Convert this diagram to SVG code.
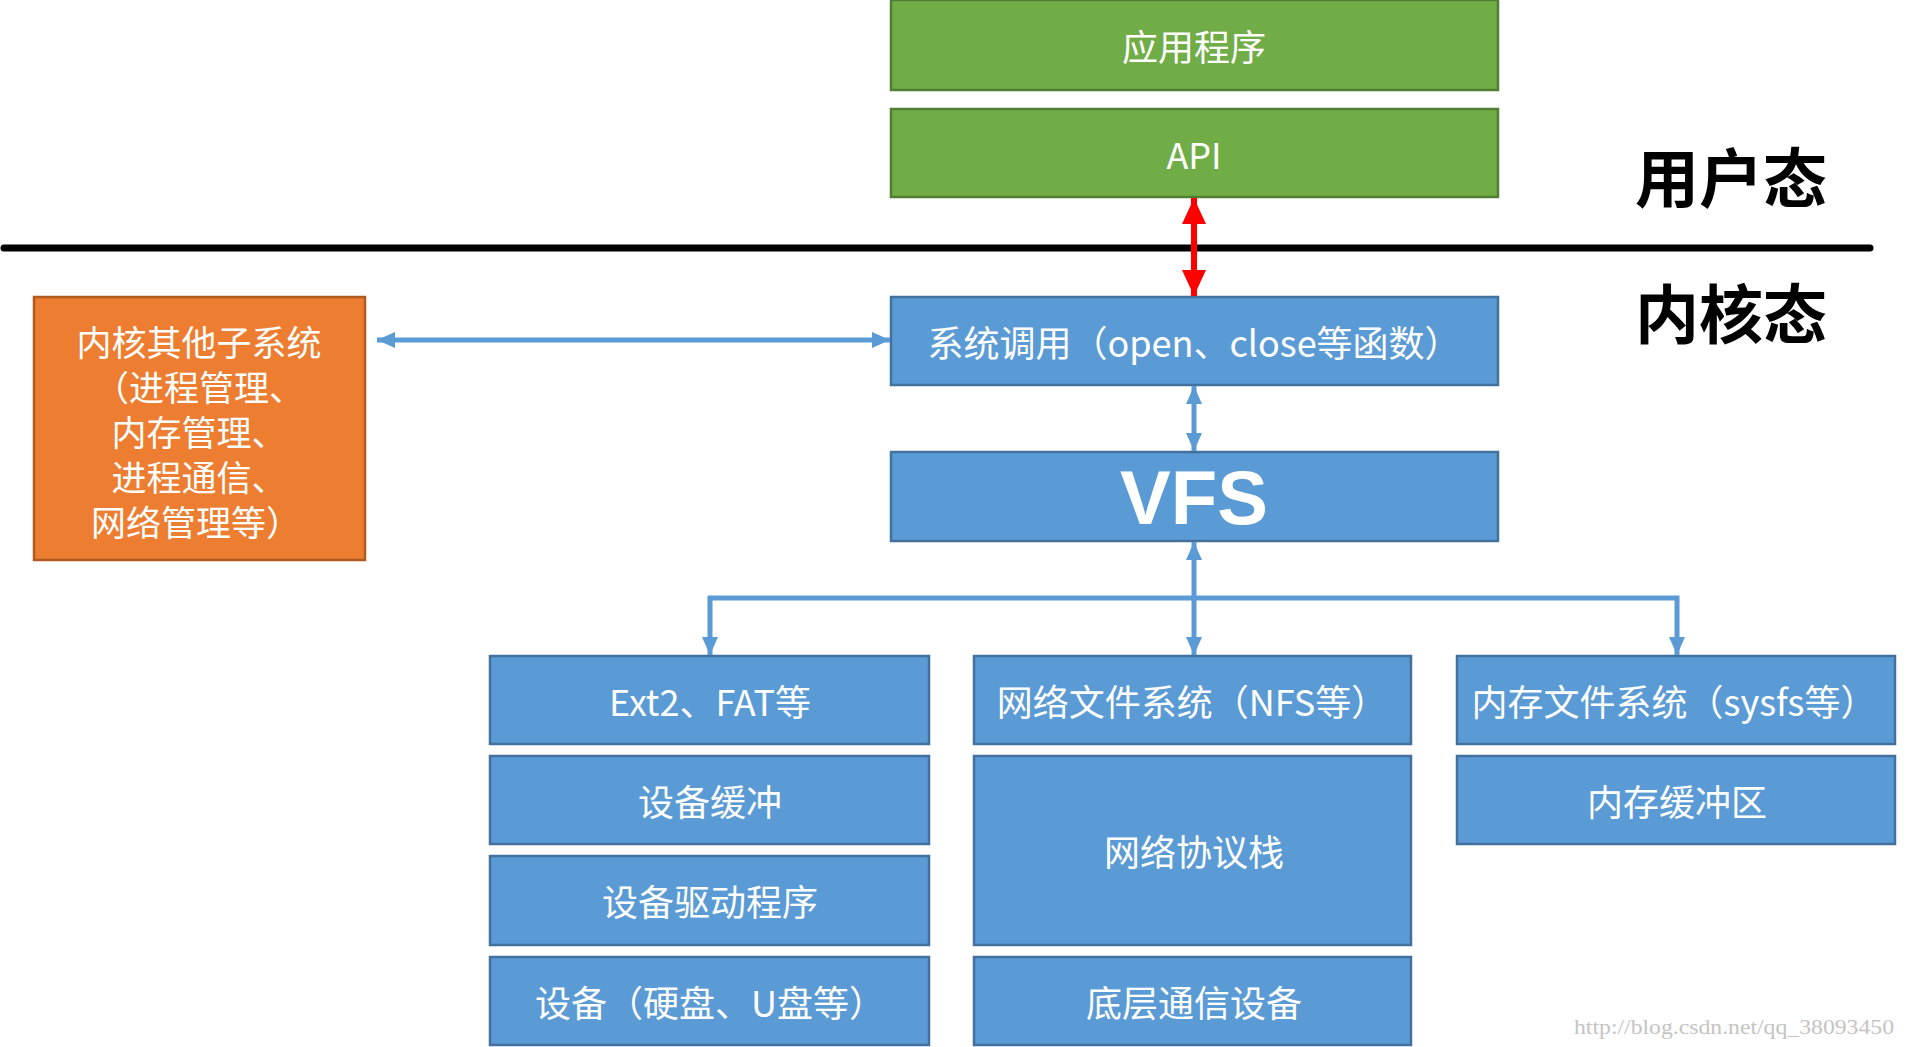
<svg xmlns="http://www.w3.org/2000/svg" width="1906" height="1047" viewBox="0 0 1906 1047">
<style>
.g{fill:#70AD47;stroke:#507E32;stroke-width:2.5}
.b{fill:#5B9BD5;stroke:#41719C;stroke-width:2.5}
.o{fill:#ED7D31;stroke:#AE5A21;stroke-width:2.5}
.t{font-family:"Noto Sans CJK SC","Noto Sans",sans-serif;fill:#fff;font-size:36px;text-anchor:middle;dominant-baseline:central}
.ot{font-size:35px}
.k{font-family:"Noto Sans CJK SC",sans-serif;fill:#000;font-size:64px;font-weight:bold;text-anchor:middle;dominant-baseline:central}
.ba{stroke:#5B9BD5;stroke-width:5;fill:none}
</style>
<defs>
<marker id="ab" markerUnits="userSpaceOnUse" markerWidth="18" markerHeight="18" viewBox="0 0 18 18" refX="18" refY="9" orient="auto-start-reverse"><path d="M0,1 L18,9 L0,17 Z" fill="#5B9BD5"/></marker>
<marker id="ar" markerUnits="userSpaceOnUse" markerWidth="26" markerHeight="26" viewBox="0 0 26 26" refX="26" refY="13" orient="auto-start-reverse"><path d="M0,1 L26,13 L0,25 Z" fill="#FF0000"/></marker>
</defs>
<rect width="1906" height="1047" fill="#fff"/>
<g id="divider"><line x1="4" y1="248" x2="1870" y2="248" stroke="#000" stroke-width="7" stroke-linecap="round"/></g>
<g id="label-user"><text class="k" x="1731" y="174">用户态</text></g>
<g id="label-kernel"><text class="k" x="1731" y="310">内核态</text></g>
<g id="app"><rect class="g" x="891" y="0" width="607" height="90"/><text class="t" x="1194" y="45">应用程序</text></g>
<g id="api"><rect class="g" x="891" y="109" width="607" height="88"/><text class="t" x="1194" y="153">API</text></g>
<g id="syscall"><rect class="b" x="891" y="297" width="607" height="88"/><text class="t" x="1194" y="341">系统调用（open、close等函数）</text></g>
<g id="vfs"><rect class="b" x="891" y="452" width="607" height="89"/><text class="t" x="1194" y="497" style="font-family:'Liberation Sans',Arial,sans-serif;font-size:76px;font-weight:bold">VFS</text></g>
<g id="other"><rect class="o" x="34" y="297" width="331" height="263"/>
<text class="t ot"><tspan x="199" y="340">内核其他子系统</tspan><tspan x="199" y="385">（进程管理、</tspan><tspan x="199" y="430">内存管理、</tspan><tspan x="199" y="475">进程通信、</tspan><tspan x="196" y="520">网络管理等）</tspan></text></g>
<g id="ext2"><rect class="b" x="490" y="656" width="439" height="88"/><text class="t" x="710" y="700">Ext2、FAT等</text></g>
<g id="devbuf"><rect class="b" x="490" y="756" width="439" height="88"/><text class="t" x="710" y="800">设备缓冲</text></g>
<g id="driver"><rect class="b" x="490" y="856" width="439" height="89"/><text class="t" x="710" y="900">设备驱动程序</text></g>
<g id="device"><rect class="b" x="490" y="957" width="439" height="88"/><text class="t" x="710" y="1001">设备（硬盘、U盘等）</text></g>
<g id="nfs"><rect class="b" x="974" y="656" width="437" height="88"/><text class="t" x="1192" y="700">网络文件系统（NFS等）</text></g>
<g id="netstack"><rect class="b" x="974" y="756" width="437" height="189"/><text class="t" x="1194" y="850">网络协议栈</text></g>
<g id="netdev"><rect class="b" x="974" y="957" width="437" height="88"/><text class="t" x="1194" y="1001">底层通信设备</text></g>
<g id="memfs"><rect class="b" x="1457" y="656" width="438" height="88"/><text class="t" x="1674" y="700">内存文件系统（sysfs等）</text></g>
<g id="membuf"><rect class="b" x="1457" y="756" width="438" height="88"/><text class="t" x="1677" y="800">内存缓冲区</text></g>
<g id="watermark"><text x="1574" y="1034" textLength="320" lengthAdjust="spacingAndGlyphs" style="font-family:'Liberation Serif',serif;font-size:22px;fill:#c4c4c4">http://blog.csdn.net/qq_38093450</text></g>
<g id="connectors">
<line x1="1194" y1="198" x2="1194" y2="296" stroke="#FF0000" stroke-width="6" marker-start="url(#ar)" marker-end="url(#ar)"/>
<line class="ba" x1="377" y1="340" x2="890" y2="340" marker-start="url(#ab)" marker-end="url(#ab)"/>
<line class="ba" x1="1194" y1="386" x2="1194" y2="451" marker-start="url(#ab)" marker-end="url(#ab)"/>
<line class="ba" x1="1194" y1="542" x2="1194" y2="655" marker-start="url(#ab)" marker-end="url(#ab)"/>
<polyline class="ba" points="710,655 710,598 1677,598 1677,655" marker-start="url(#ab)" marker-end="url(#ab)"/>
</g>
</svg>
